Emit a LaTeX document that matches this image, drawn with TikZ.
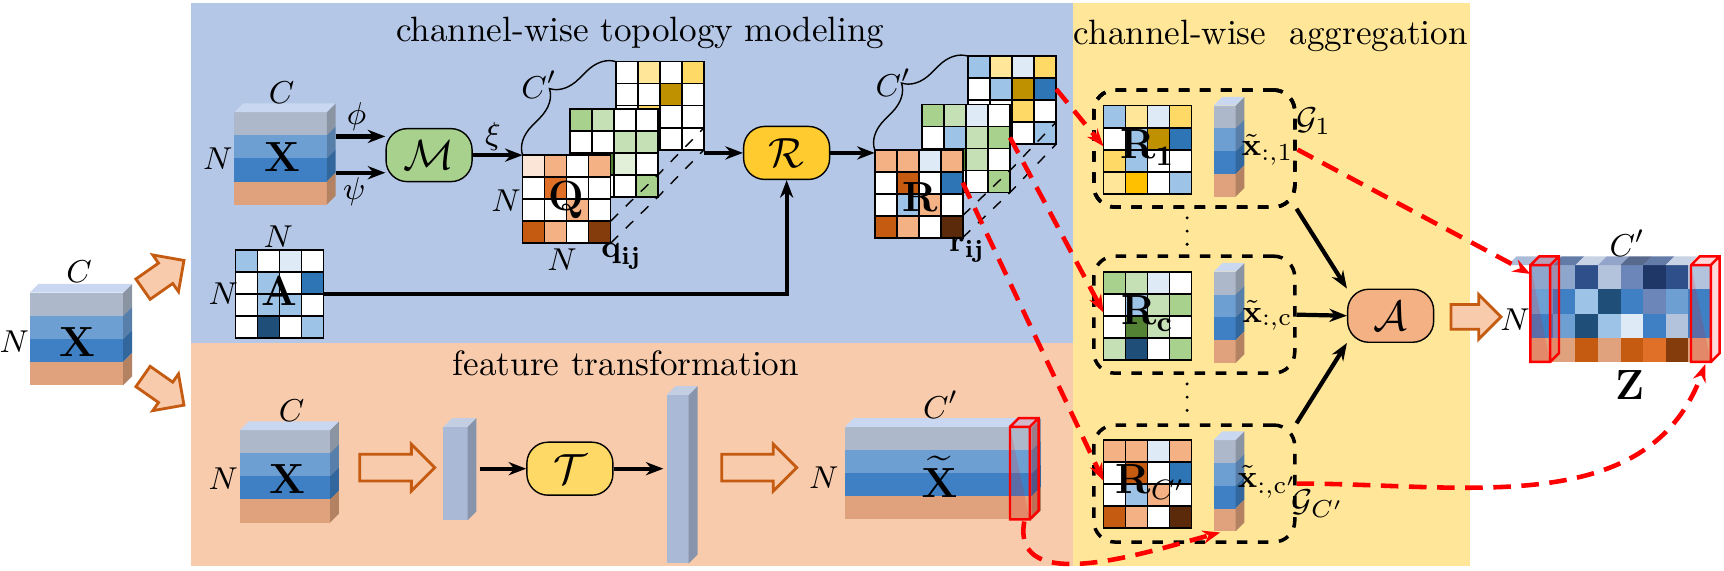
\documentclass[tikz,border=0pt]{standalone}
\usepackage{amsmath,amssymb}
\usepackage{tikz}
\usetikzlibrary{shapes,arrows,positioning,arrows.meta,decorations.pathreplacing}

\definecolor{bgblue}{HTML}{B4C7E7}
\definecolor{bgsalmon}{HTML}{F8CBAD}
\definecolor{bgyellow}{HTML}{FFE699}
\definecolor{Ltop}{HTML}{C9D8F0}
\definecolor{La}{HTML}{ADB9CA}
\definecolor{Lb}{HTML}{6E9FD3}
\definecolor{Lc}{HTML}{3F80C4}
\definecolor{Ld}{HTML}{DFA27C}
\definecolor{slab}{HTML}{A9B9D6}
\definecolor{oa}{HTML}{FBE5D6}
\definecolor{ob}{HTML}{F4B183}
\definecolor{oc}{HTML}{E07028}
\definecolor{od}{HTML}{C55A11}
\definecolor{oe}{HTML}{843C0C}
\definecolor{of}{HTML}{5A2A0A}
\definecolor{ga}{HTML}{A9D18E}
\definecolor{gb}{HTML}{C5E0B4}
\definecolor{gc}{HTML}{E2F0D9}
\definecolor{gd}{HTML}{548235}
\definecolor{ya}{HTML}{FFE699}
\definecolor{yb}{HTML}{FFD966}
\definecolor{yc}{HTML}{BF9000}
\definecolor{yd}{HTML}{FFC000}
\definecolor{ba}{HTML}{DEEBF7}
\definecolor{bb}{HTML}{9DC3E6}
\definecolor{bc}{HTML}{2E75B6}
\definecolor{bd}{HTML}{1F4E79}
\definecolor{za}{HTML}{8FA6CC}
\definecolor{zb}{HTML}{2F4F8A}
\definecolor{zc}{HTML}{1F3766}
\definecolor{zd}{HTML}{B4C3DC}
\definecolor{ze}{HTML}{6D86B9}
\definecolor{boxgreen}{HTML}{A9D18E}
\definecolor{boxgold}{HTML}{FFCB2E}
\definecolor{boxyellow}{HTML}{FFD966}
\definecolor{boxorange}{HTML}{F4B183}
\definecolor{arrorange}{HTML}{C55A11}

% 4 x n grid of 20-unit cells, top-left at (x,y)
\newcommand{\gridmat}[4]{%
  \foreach \c [count=\i from 0] in {#4} {
    \pgfmathtruncatemacro\cc{mod(\i,4)}
    \pgfmathtruncatemacro\rr{\i/4}
    \fill[\c,draw=black,line width=0.5pt] (#2+\cc*20,#3+\rr*20) rectangle ++(20,20);
  }
  \coordinate (#1-nw) at (#2,#3);
  \coordinate (#1-w) at (#2,#3+40);
  \coordinate (#1-w2) at (#2,#3+37);
  \coordinate (#1-e) at (#2+80,#3+40);
  \coordinate (#1-e2) at (#2+80,#3+30);
  \coordinate (#1-se) at (#2+80,#3+80);
  \coordinate (#1-me) at (#2+80,#3+60);
}
% layered cube: x, y (front top), width, height
\newcommand{\lcube}[4]{%
  \foreach \k/\col in {0/La,1/Lb,2/Lc,3/Ld}{
    \fill[\col] (#1,#2+\k*#4/4) rectangle ++(#3,#4/4);
    \fill[\col!80!black] (#1+#3,#2+\k*#4/4) -- ++(8,-8) -- ++(0,#4/4) -- ++(-8,8) -- cycle;
  }
  \fill[Ltop] (#1,#2) -- ++(8,-8) -- ++(#3,0) -- ++(-8,8) -- cycle;
}
% plain slab
\newcommand{\pslab}[4]{%
  \fill[slab] (#1,#2) rectangle ++(#3,#4);
  \fill[slab!80!black] (#1+#3,#2) -- ++(8,-8) -- ++(0,#4) -- ++(-8,8) -- cycle;
  \fill[slab!70!white] (#1,#2) -- ++(8,-8) -- ++(#3,0) -- ++(-8,8) -- cycle;
}
% red outlined slice
\newcommand{\rslice}[5]{%
  \draw[red,fill=red,fill opacity=0.15,line width=0.7pt] (#2,#3) rectangle ++(#4,#5)
    (#2,#3) -- ++(8,-8) -- ++(#4,0) -- ++(0,#5) -- ++(-8,8) (#2+#4,#3) -- ++(8,-8);
  \coordinate (#1-bot) at (#2+#4/2+4,#3+#5+2);
  \coordinate (#1-w) at (#2,#3+8);
}

\tikzset{
  lbl/.style={inner sep=1pt,font=\fontsize{9.5}{11}\selectfont},
  title/.style={inner sep=1pt,font=\fontsize{10}{12}\selectfont},
  op/.style={draw=black,rounded corners=6pt,minimum width=0.86cm,minimum height=0.53cm,font=\large},
  flow/.style={-{Stealth[length=5pt]},line width=1.2pt},
  redflow/.style={-{Stealth[length=5pt]},red,line width=1.3pt,dash pattern=on 5pt off 3pt},
  grp/.style={draw=black,dashed,line width=1pt,rounded corners=6pt,minimum width=2.01cm,minimum height=1.17cm},
  bigarr/.style={single arrow,draw=arrorange,fill=bgsalmon,line width=0.8pt,inner sep=0.11cm,minimum height=0.5cm,single arrow head extend=0.1cm},
  flatarr/.style={bigarr,inner sep=0.12cm,minimum height=0.75cm,single arrow head extend=0.1cm},
}

\begin{document}
\begin{tikzpicture}[x=0.011cm,y=-0.011cm]
\useasboundingbox (0,0) rectangle (1567,519);
%% backgrounds
\fill[bgblue] (174,3) rectangle (975,312);
\fill[bgsalmon] (174,312) rectangle (975,514);
\fill[bgyellow] (975,3) rectangle (1336,514);
\node[title] (ttop) at (582,30) {channel-wise topology modeling};
\node[title] (tbot) at (569,330) {feature transformation};
\node[title] (tagg) at (1155,33) {channel-wise\ \ aggregation};

%% input
\lcube{27}{266}{85}{84}
\node[lbl] (inC) at (72,247) {$C$};
\node[lbl] (inN) at (13,311) {$N$};
\node[font=\bfseries\large] (inX) at (70,311) {X};
\node[bigarr,rotate=35] (upar) at (144,253) {};
\node[bigarr,rotate=-35] (dnar) at (144,352) {};

%% channel-wise topology modeling
\lcube{213}{102}{84}{84}
\node[lbl] (xC) at (256,84) {$C$};
\node[lbl] (xN) at (198,144) {$N$};
\node[font=\bfseries\large] (xX) at (257,143) {X};
\coordinate (phiS) at (305,124);
\coordinate (psiS) at (305,157);
\node[op,fill=boxgreen] (M) at (390,141) {$\mathcal{M}$};
\draw[flow] (phiS) -- (phiS -| M.west);
\draw[flow] (psiS) -- (psiS -| M.west);
\node[lbl] (phi) at (324,106) {$\phi$};
\node[lbl] (psi) at (322,174) {$\psi$};
\node[lbl] (xi) at (448,124) {$\xi$};
\gridmat{Qb}{560}{56}{white,ya,white,yb, white,white,yc,white, white,yb,white,white, white,white,white,white}
\gridmat{Qm}{518}{99}{ga,gb,white,white, white,white,gb,gb, white,gd,gc,white, white,white,white,ga}
\gridmat{Qf}{475}{141}{oa,ob,white,ob, white,oc,white,white, white,white,ob,white, od,ob,white,oe}
\draw[dashed,thin] (Qf-me) -- (Qm-me) -- (Qb-me) (Qf-se) -- (Qm-se) -- (Qb-se);
\draw[decorate,decoration={brace,amplitude=8pt}] (Qf-nw) -- (Qb-nw);
\draw[flow] (M.east) -- (Qf-w |- M.east);
\node[font=\bfseries\large] (Q) at (515,182) {Q};
\node[lbl] (qC) at (490,77) {$C'$};
\node[lbl] (qN) at (460,182) {$N$};
\node[lbl] (qN2) at (511,236) {$N$};
\node[lbl] (qij) at (565,233) {$\mathbf{q_{ij}}$};
\node[op,fill=boxgold] (R) at (715,139) {$\mathcal{R}$};
\draw[flow] (Qb-e |- R.west) -- (R.west);
\gridmat{Rb}{880}{51}{bb,ya,ba,yb, white,bb,yc,bc, white,white,yb,white, white,white,white,bb}
\gridmat{Rm}{838}{95}{ga,gb,ba,white, white,bb,gb,ga, white,gd,gb,white, white,white,white,ga}
\gridmat{Rf}{795}{136}{ob,ob,ba,ob, white,od,white,bc, white,bb,ob,white, od,ob,white,of}
\draw[dashed,thin] (Rf-me) -- (Rm-me) -- (Rb-me) (Rf-se) -- (Rm-se) -- (Rb-se);
\draw[decorate,decoration={brace,amplitude=8pt}] (Rf-nw) -- (Rb-nw);
\draw[flow] (R.east) -- (Rf-w |- R.east);
\node[font=\bfseries\large] (Rl) at (836,179) {R};
\node[lbl] (rC) at (812,75) {$C'$};
\node[lbl] (rij) at (879,227) {$\mathbf{r_{ij}}$};
\gridmat{Am}{214}{227}{bb,white,ba,white, white,bb,white,bc, white,bb,bb,white, white,bd,white,bb}
\node[font=\bfseries\large] (Al) at (254,264) {A};
\node[lbl] (aN) at (253,215) {$N$};
\node[lbl] (aN2) at (203,267) {$N$};
\draw[flow] (Am-e) -- (R.south |- Am-e) -- (R.south);

%% feature transformation
\lcube{218}{391}{82}{84}
\node[lbl] (fC) at (265,373) {$C$};
\node[lbl] (fN) at (203,435) {$N$};
\node[font=\bfseries\large] (fX) at (261,435) {X};
\node[flatarr] (far1) at (355,425) {};
\pslab{403}{388}{22}{85}
\coordinate (s1) at (436,426);
\coordinate (s2) at (603,426);
\node[op,fill=boxyellow] (T) at (518,426) {$\mathcal{T}$};
\draw[flow] (s1) -- (T.west);
\pslab{606}{359}{20}{153}
\draw[flow] (T.east) -- (s2);
\node[flatarr] (far2) at (684,425) {};
\lcube{768}{388}{170}{84}
\rslice{xs}{918}{388}{18}{84}
\node[lbl] (tC) at (855,368) {$C'$};
\node[lbl,anchor=east] (tN) at (766,434) {$N$};
\node[font=\bfseries\large] (tX) at (854,433) {$\widetilde{\mathbf{X}}$};

%% channel-wise aggregation
\gridmat{G1}{1003}{96}{bb,ya,ba,yb,white,bb,yc,bc,yb,bb,white,white,ya,yd,white,bb}
\gridmat{Gc}{1003}{247}{ga,gb,ba,white,white,bb,gb,ga,white,gd,gb,white,gb,bd,white,ga}
\gridmat{Gk}{1003}{400}{ob,ob,ba,ob,white,od,white,bc,white,bb,ob,white,od,ob,white,of}
\foreach \gy in {96,247,400}
  \lcube{1103}{\gy}{20}{83}
\node[grp] (g1) at (1085.5,135) {};
\node[grp] (gc) at (1085.5,286) {};
\node[grp] (gk) at (1085.5,439.5) {};
\node[font=\bfseries\large] (R1) at (1043,134) {R$_{\mathbf 1}$};
\node[font=\bfseries\large] (Rc) at (1043,285) {R$_{\mathbf c}$};
\node[font=\bfseries\large] (Rk) at (1046,438) {R$_{C'}$};
\node[lbl] (x1) at (1152,136) {$\tilde{\mathbf{x}}_{:,1}$};
\node[lbl] (xc) at (1152,287) {$\tilde{\mathbf{x}}_{:,\mathrm{c}}$};
\node[lbl] (xk) at (1152,438) {$\tilde{\mathbf{x}}_{:,\mathrm{c}'}$};
\node[lbl] (G1l) at (1194,110) {$\mathcal{G}_1$};
\node[lbl] (Gkl) at (1198,458) {$\mathcal{G}_{C'}$};
\foreach \dy in {198,210,222,349,361,373}
  \fill (1079,\dy) circle (1.5);
\node[op,fill=boxorange] (Ag) at (1264,287) {$\mathcal{A}$};
\draw[flow] (g1.south east) -- (Ag.north west);
\draw[flow] (gc.east) -- (Ag.west);
\draw[flow] (gk.north east) -- (Ag.south west);
\node[bigarr] (aar) at (1336,288) {};

%% output Z
\foreach \c [count=\i from 0] in {za,za,zb,zd,ze,zc,zb,zd,
  Lb,Lc,bb,bd,Lc,ze,Lb,Lc,
  Lc,Lb,bd,bb,ba,Lc,zd,Lc,
  Ld,Ld,od,Ld,od,oc,oe,Ld}{
  \pgfmathtruncatemacro\cc{mod(\i,8)}
  \pgfmathtruncatemacro\rr{\i/8}
  \fill[\c] (1391+\cc*20.5,241+\rr*22) rectangle ++(20.5,22);
}
\foreach \c [count=\i from 0] in {za,za,zb,zd,ze,zc,zb,zd}
  \fill[\c!75!white] (1391+\i*20.5-20.5,241) -- ++(8,-8) -- ++(20.5,0) -- ++(-8,8) -- cycle;
\rslice{zl}{1391}{241}{18}{88}
\rslice{zr}{1537}{241}{18}{88}
\node[lbl] (zC) at (1479,221) {$C'$};
\node[lbl] (zN) at (1377,291) {$N$};
\node[font=\bfseries\large] (zZ) at (1482,350) {Z};

%% red links
\draw[redflow] (Rb-e2) -- (G1-w2);
\draw[redflow] (Rm-e2) -- (Gc-w2);
\draw[redflow] (Rf-e2) -- (Gk-w2);
\draw[redflow] (x1.east) -- (zl-w);
\draw[redflow] (gk.east) to[out=0,in=250] (zr-bot);
\coordinate (barbot) at (1109,484);
\draw[redflow] (xs-bot) to[out=-100,in=195] (barbot);
\end{tikzpicture}
\end{document}
